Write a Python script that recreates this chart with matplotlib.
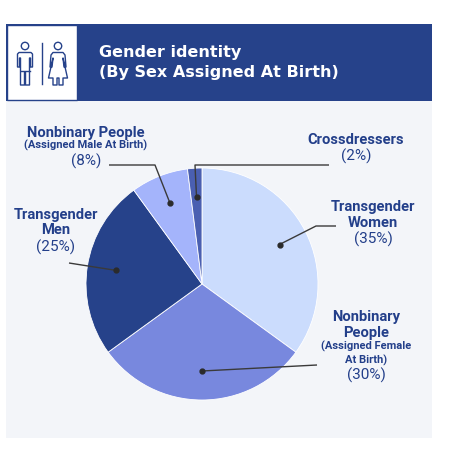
import matplotlib
matplotlib.use("Agg")
import matplotlib.pyplot as plt
from matplotlib.patches import Rectangle, Circle, Polygon
import numpy as np

# ---- data ----
categories = ["Transgender Women", "Nonbinary People (AFAB)", "Transgender Men",
              "Nonbinary People (AMAB)", "Crossdressers"]
shares = [35, 30, 25, 8, 2]
pct_labels = ["(35%)", "(30%)", "(25%)", "(8%)", "(2%)"]
title_lines = ["Gender identity", "(By Sex Assigned At Birth)"]

colors = ["#cbdcfd", "#7888de", "#26428a", "#a4b4fb", "#4a5fb1"]
NAVY = "#26428a"
TEXT = "#233f8a"
W, H = 461, 458

fig = plt.figure(figsize=(W / 100, H / 100), dpi=100)
fig.patch.set_facecolor("white")
ax = fig.add_axes([0, 0, 1, 1])

def Y(y):
    return H - y

# panel
ax.add_patch(Rectangle((6, Y(438)), 426, 337, facecolor="#f3f5f9", edgecolor="none", zorder=0))
ax.add_patch(Rectangle((6, Y(101)), 426, 77, facecolor=NAVY, edgecolor="none", zorder=1))
ax.add_patch(Rectangle((7, Y(100)), 70, 75, facecolor="white", edgecolor=NAVY, lw=1, zorder=2))

# icon
ax.add_patch(Circle((25, Y(46)), 3.7, facecolor="none", edgecolor=NAVY, lw=1, zorder=3))
ax.add_patch(Circle((58, Y(46)), 3.7, facecolor="none", edgecolor=NAVY, lw=1, zorder=3))
male = [(17.5, 54), (17.5, 67), (19.5, 67), (19.5, 58), (20.5, 58), (20.5, 85), (24.5, 85),
        (24.5, 72), (25.5, 72), (25.5, 85), (29.5, 85), (29.5, 58), (30.5, 58), (30.5, 67),
        (32.5, 67), (32.5, 54), (31, 52.5), (19, 52.5)]
female = [(53, 52.5), (51, 55), (50, 67), (52, 67), (53, 58), (48.5, 78), (53, 78), (53, 85),
          (57, 85), (57, 78), (59, 78), (59, 85), (63, 85), (63, 78), (67.5, 78), (63, 58),
          (64, 67), (66, 67), (65, 55), (63, 52.5)]
for shape in (male, female):
    ax.add_patch(Polygon([(x, Y(y)) for x, y in shape], closed=True, facecolor="none",
                         edgecolor=NAVY, lw=1, zorder=3, joinstyle="round"))
ax.plot([20.5, 29.5], [Y(71), Y(71)], color=NAVY, lw=1, zorder=3)
ax.plot([42, 42], [Y(43), Y(84)], color=NAVY, lw=1, zorder=3)

# title
ax.text(99, Y(53), title_lines[0], color="white", fontsize=11.5, fontweight="bold",
        family="DejaVu Sans", va="center", ha="left", zorder=3)
ax.text(99, Y(73), title_lines[1], color="white", fontsize=11.5, fontweight="bold",
        family="DejaVu Sans", va="center", ha="left", zorder=3)

# pie
cx, cy, R = 202, Y(284), 116
wedges, _ = ax.pie(shares, colors=colors, startangle=90, counterclock=False,
                   center=(cx, cy), radius=R, frame=True,
                   wedgeprops=dict(edgecolor="white", linewidth=0.6))
for w in wedges:
    w.set_zorder(2)

ax.set_xlim(0, W)
ax.set_ylim(0, H)
ax.set_aspect("auto")
ax.axis("off")

# anchor points from wedge mid-angles
anchors = []
for w in wedges:
    mid = np.deg2rad((w.theta1 + w.theta2) / 2)
    anchors.append((cx + 0.75 * R * np.cos(mid), cy + 0.75 * R * np.sin(mid)))

LINE = "#3a3a3a"
paths = [
    [(316, 226), (336, 226)],
    [(317, 365)],
    [(69, 263)],
    [(155, 165), (109, 165)],
    [(195, 165), (329, 165)],
]
for (ax0, ay0), pts in zip(anchors, paths):
    xs = [ax0] + [p[0] for p in pts]
    ys = [ay0] + [Y(p[1]) for p in pts]
    ax.plot(xs, ys, color=LINE, lw=1, zorder=4, solid_capstyle="butt")
    ax.plot([ax0], [ay0], "o", color="#2b2b2b", ms=3.5, zorder=5)

def bold(x, y, s, size=10.6):
    ax.text(x, Y(y), s, color=TEXT, fontsize=size, fontweight="bold", family="Roboto",
            ha="center", va="center", zorder=4)

def reg(x, y, s, size=11):
    ax.text(x, Y(y), s, color=TEXT, fontsize=size, family="Roboto",
            ha="center", va="center", zorder=4)

SMALL = 8.0
# Transgender Women
bold(373, 207, "Transgender")
bold(373, 223, "Women")
reg(373, 239, pct_labels[0])
# Nonbinary AFAB
bold(366, 317, "Nonbinary")
bold(366, 333, "People")
bold(366, 346, "(Assigned Female", SMALL)
bold(366, 360, "At Birth)", SMALL)
reg(366, 375, pct_labels[1])
# Transgender Men
bold(56, 215, "Transgender")
bold(56, 230, "Men")
reg(56, 247, pct_labels[2])
# Nonbinary AMAB
bold(86, 133, "Nonbinary People")
bold(86, 145, "(Assigned Male At Birth)", SMALL)
reg(86, 161, pct_labels[3])
# Crossdressers
bold(356, 140, "Crossdressers")
reg(356, 156, pct_labels[4])

fig.savefig("out.png", dpi=100, facecolor="white")
